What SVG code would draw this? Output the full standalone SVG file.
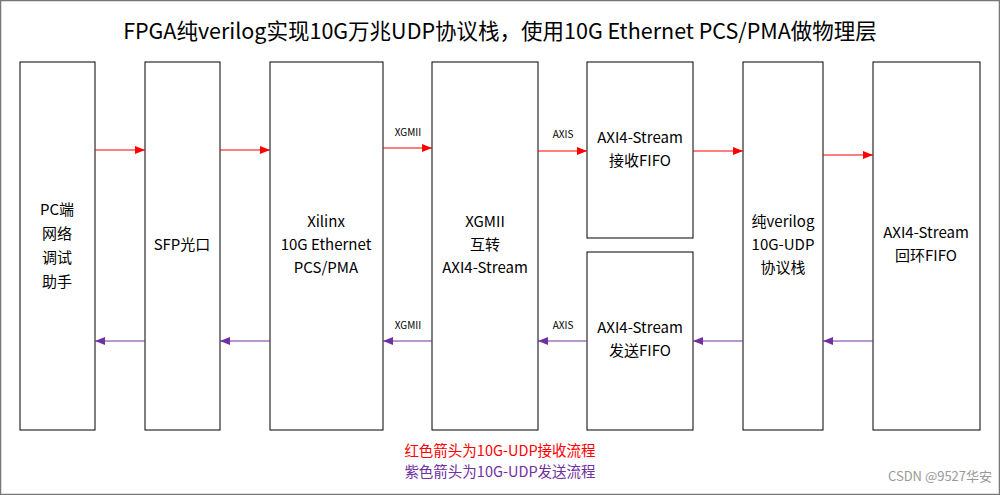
<svg xmlns="http://www.w3.org/2000/svg" width="1000" height="495" viewBox="0 0 1000 495">
<style>
.b{fill:#fff;stroke:#000;stroke-width:1}
text{font-family:"Noto Sans CJK SC","Noto Sans",sans-serif;font-size:15px;fill:#000;text-anchor:middle}
.s{font-size:10px}
.r{stroke:#f00;stroke-width:1.2;marker-end:url(#mr)}
.p{stroke:#7030a0;stroke-width:1.2;marker-end:url(#mp)}
</style>
<defs>
<marker id="mr" markerWidth="10" markerHeight="8" refX="10" refY="4" orient="auto" markerUnits="userSpaceOnUse"><path d="M0,0L10,4L0,8z" fill="#f00"/></marker>
<marker id="mp" markerWidth="10" markerHeight="8" refX="10" refY="4" orient="auto" markerUnits="userSpaceOnUse"><path d="M0,0L10,4L0,8z" fill="#7030a0"/></marker>
</defs>
<rect x="0.5" y="0.5" width="999" height="494" fill="#fff" stroke="#777" stroke-width="1.5"/>
<text x="500" y="39" style="font-size:21.5px">FPGA纯verilog实现10G万兆UDP协议栈，使用10G Ethernet PCS/PMA做物理层</text>
<g id="pc"><rect class="b" x="20" y="62" width="75" height="368"/><text x="57" y="215">PC端</text><text x="57" y="239">网络</text><text x="57" y="263">调试</text><text x="57" y="287">助手</text></g>
<g id="sfp"><rect class="b" x="145" y="62" width="75" height="368"/><text x="182" y="250">SFP光口</text></g>
<g id="pcs"><rect class="b" x="270" y="62" width="113" height="368"/><text x="326" y="227">Xilinx</text><text x="326" y="250">10G Ethernet</text><text x="326" y="273">PCS/PMA</text></g>
<g id="xgmii"><rect class="b" x="432" y="62" width="106" height="368"/><text x="485" y="227">XGMII</text><text x="485" y="250">互转</text><text x="485" y="273">AXI4-Stream</text></g>
<g id="rxfifo"><rect class="b" x="587" y="62" width="106" height="176"/><text x="640" y="143">AXI4-Stream</text><text x="640" y="166">接收FIFO</text></g>
<g id="txfifo"><rect class="b" x="587" y="252" width="106" height="178"/><text x="640" y="333">AXI4-Stream</text><text x="640" y="356">发送FIFO</text></g>
<g id="udp"><rect class="b" x="743" y="62" width="80" height="368"/><text x="783" y="227">纯verilog</text><text x="783" y="250">10G-UDP</text><text x="783" y="273">协议栈</text></g>
<g id="loop"><rect class="b" x="873" y="62" width="107" height="368"/><text x="926" y="238">AXI4-Stream</text><text x="926" y="261">回环FIFO</text></g>
<g id="connectors">
<line class="r" x1="95" y1="150" x2="145" y2="150"/>
<line class="r" x1="220" y1="150" x2="270" y2="150"/>
<line class="r" x1="383" y1="148" x2="432" y2="148"/>
<line class="r" x1="538" y1="151" x2="587" y2="151"/>
<line class="r" x1="693" y1="151" x2="743" y2="151"/>
<line class="r" x1="823" y1="155" x2="873" y2="155"/>
<line class="p" x1="145" y1="341" x2="95" y2="341"/>
<line class="p" x1="270" y1="341" x2="220" y2="341"/>
<line class="p" x1="432" y1="341" x2="383" y2="341"/>
<line class="p" x1="587" y1="341" x2="538" y2="341"/>
<line class="p" x1="743" y1="341" x2="693" y2="341"/>
<line class="p" x1="873" y1="341" x2="823" y2="341"/>
<text class="s" x="408" y="136">XGMII</text>
<text class="s" x="563" y="138">AXIS</text>
<text class="s" x="408" y="329">XGMII</text>
<text class="s" x="563" y="329">AXIS</text>
</g>
<text x="500" y="456" style="font-size:14.5px;fill:#f00">红色箭头为10G-UDP接收流程</text>
<text x="500" y="477" style="font-size:14.5px;fill:#7030a0">紫色箭头为10G-UDP发送流程</text>
<text x="940" y="481" style="font-size:13px;fill:#999">CSDN @9527华安</text>
</svg>
